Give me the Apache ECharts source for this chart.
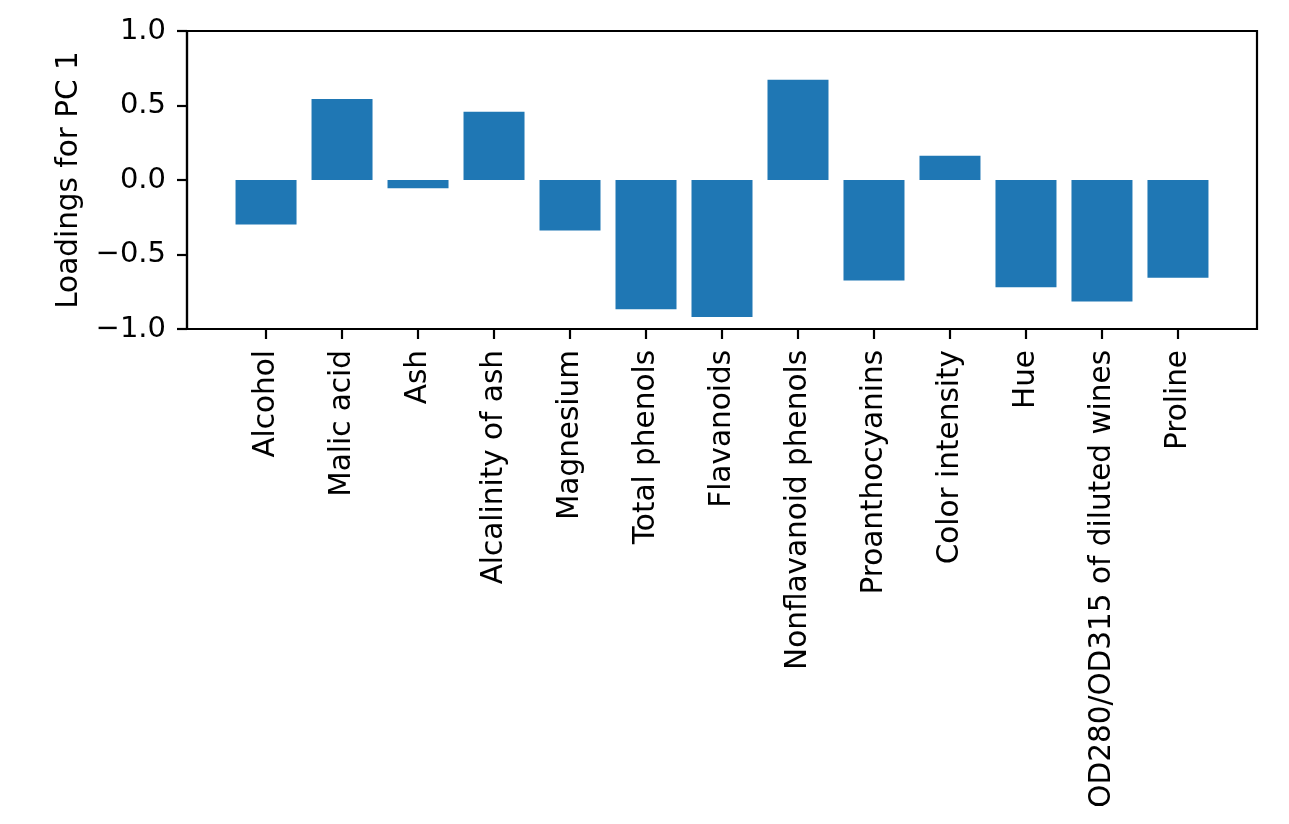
<!DOCTYPE html>
<html>
<head>
<meta charset="utf-8">
<script src="https://cdn.jsdelivr.net/npm/echarts@6/dist/echarts.min.js"></script>
<style>
html,body{margin:0;padding:0;background:#fff;}
#chart{width:1289px;height:824px;}
</style>
</head>
<body>
<div id="chart"></div>
<script>
const categories = ['Alcohol','Malic acid','Ash','Alcalinity of ash','Magnesium','Total phenols','Flavanoids','Nonflavanoid phenols','Proanthocyanins','Color intensity','Hue','OD280/OD315 of diluted wines','Proline'];
const loadings = [-0.299, 0.543, -0.056, 0.458, -0.339, -0.868, -0.920, 0.672, -0.674, 0.163, -0.719, -0.815, -0.656];
const yTicks = [-1.0, -0.5, 0.0, 0.5, 1.0];
const yLabel = 'Loadings for PC 1';

const positions = categories.map((c, i) => i);
const seriesData = loadings.map((v, i) => [positions[i], v]);
const font = 'DejaVu Sans';

const chart = echarts.init(document.getElementById('chart'));
chart.setOption({
  animation: false,
  grid: {
    left: 187, right: 32, top: 31, bottom: 495,
    show: true, borderColor: '#000', borderWidth: 2.2, backgroundColor: 'transparent'
  },
  xAxis: {
    type: 'value',
    min: -1.04, max: 13.04,
    splitLine: {show: false},
    axisLine: {show: true, onZero: false, lineStyle: {color: '#000', width: 2.2}},
    axisTick: {show: true, customValues: positions, length: 10, lineStyle: {color: '#000', width: 2.2}},
    axisLabel: {
      customValues: positions,
      rotate: 90,
      margin: 21,
      color: '#000',
      fontFamily: font,
      fontSize: 29.5,
      formatter: v => categories[Math.round(v)]
    }
  },
  yAxis: {
    type: 'value',
    min: -1, max: 1, interval: 0.5,
    name: yLabel,
    nameLocation: 'middle',
    nameRotate: 90,
    nameGap: 100,
    nameTextStyle: {color: '#000', fontFamily: font, fontSize: 29.5},
    splitLine: {show: false},
    axisLine: {show: true, onZero: false, lineStyle: {color: '#000', width: 2.2}},
    axisTick: {show: true, length: 10, lineStyle: {color: '#000', width: 2.2}},
    axisLabel: {
      customValues: yTicks,
      margin: 21,
      color: '#000',
      fontFamily: font,
      fontSize: 29,
      formatter: v => v.toFixed(1).replace('-', '\u2212')
    }
  },
  series: [{
    type: 'bar',
    data: seriesData,
    barWidth: 61,
    itemStyle: {color: '#1f77b4'}
  }]
});
</script>
</body>
</html>
